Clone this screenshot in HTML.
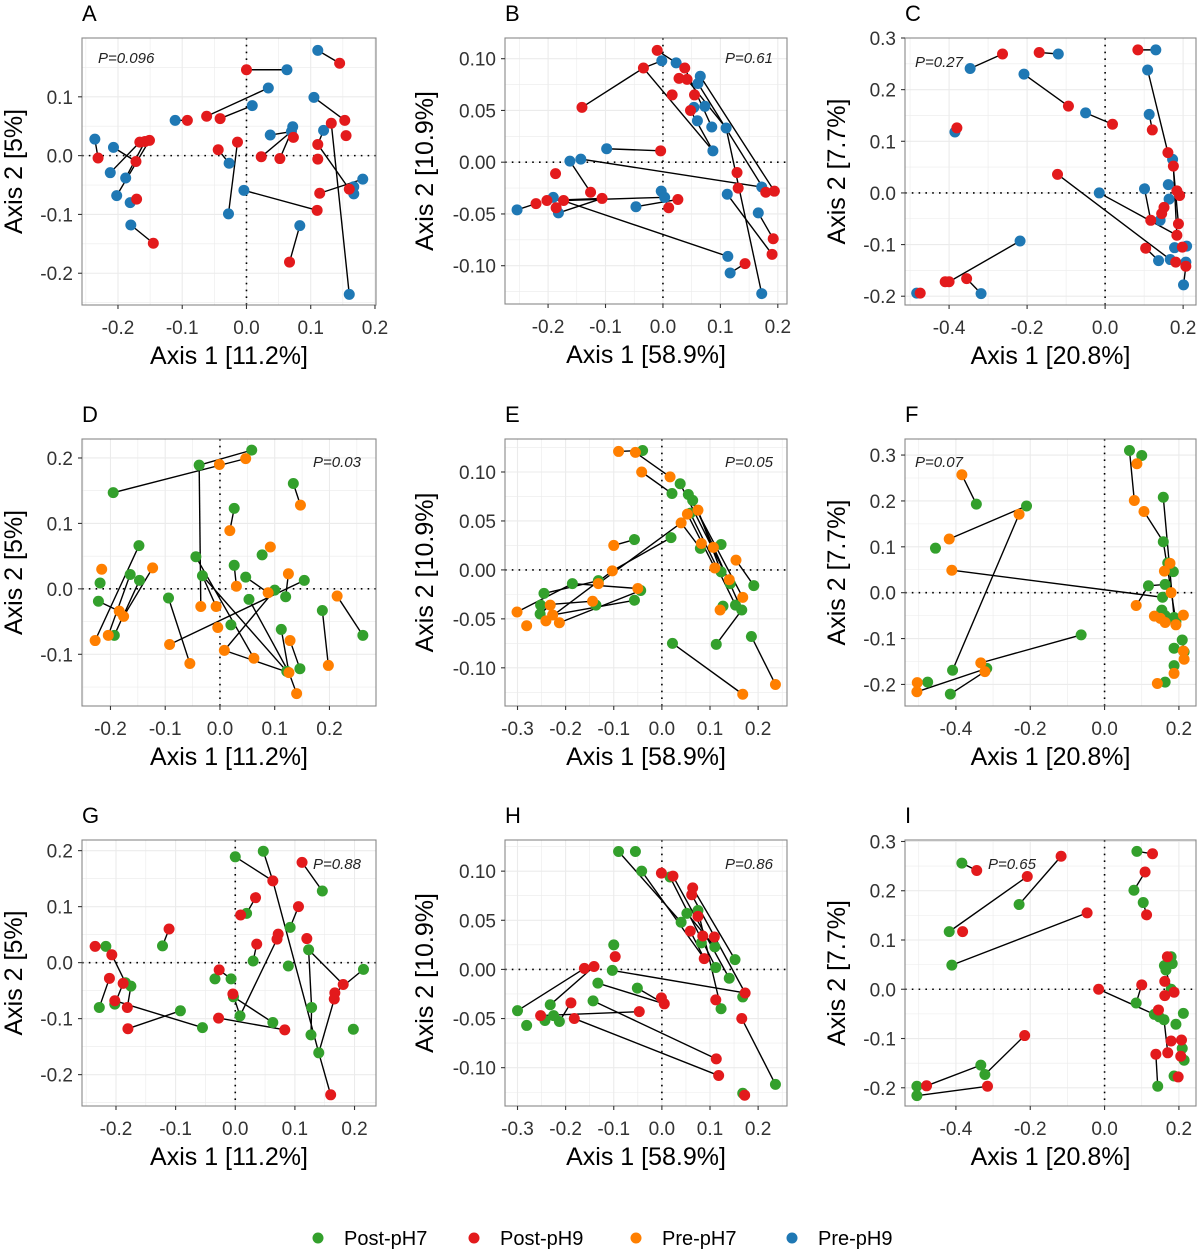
<!DOCTYPE html>
<html><head><meta charset="utf-8"><style>
html,body{margin:0;padding:0;background:#fff;}
svg{display:block;font-family:"Liberation Sans",Arial,sans-serif;}
</style></head><body>
<svg id="fig" width="1200" height="1255" viewBox="0 0 1200 1255" xmlns="http://www.w3.org/2000/svg"></svg>
<script>
const groupNames = ["Post-pH7","Post-pH9","Pre-pH7","Pre-pH9"];
const groupColors = {G:"#33a02c",R:"#e31a1c",O:"#ff7f00",B:"#1f78b4"};
const ticksA = {x:[-0.2,-0.1,0,0.1,0.2], y:[0.1,0,-0.1,-0.2]};
const ticksB = {x:[-0.2,-0.1,0,0.1,0.2], y:[0.10,0.05,0,-0.05,-0.10]};
const ticksC = {x:[-0.4,-0.2,0,0.2], y:[0.3,0.2,0.1,0,-0.1,-0.2]};
const ticksD = {x:[-0.2,-0.1,0,0.1,0.2], y:[0.2,0.1,0,-0.1]};
const ticksE = {x:[-0.3,-0.2,-0.1,0,0.1,0.2], y:[0.10,0.05,0,-0.05,-0.10]};
const ticksG = {x:[-0.2,-0.1,0,0.1,0.2], y:[0.2,0.1,0,-0.1,-0.2]};

const ptsA = [[0.111,0.179,"B"],[0.063,0.146,"B"],[0.034,0.115,"B"],[0.009,0.085,"B"],[-0.111,0.060,"B"],[0.105,0.099,"B"],[-0.236,0.028,"B"],[-0.207,0.014,"B"],[-0.212,-0.029,"B"],[-0.188,-0.038,"B"],[-0.202,-0.068,"B"],[-0.181,-0.080,"B"],[-0.180,-0.118,"B"],[-0.027,-0.013,"B"],[-0.028,-0.099,"B"],[-0.004,-0.059,"B"],[0.037,0.035,"B"],[0.072,0.049,"B"],[0.070,0.041,"B"],[0.120,0.043,"B"],[0.181,-0.040,"B"],[0.167,-0.053,"B"],[0.167,-0.065,"B"],[0.083,-0.119,"B"],[0.160,-0.236,"B"],
[0.145,0.157,"R"],[0,0.146,"R"],[-0.092,0.060,"R"],[-0.062,0.067,"R"],[-0.041,0.063,"R"],[-0.044,0.010,"R"],[-0.014,0.023,"R"],[-0.231,-0.004,"R"],[-0.166,0.023,"R"],[-0.158,0.024,"R"],[-0.151,0.026,"R"],[-0.172,-0.010,"R"],[-0.171,-0.074,"R"],[-0.145,-0.149,"R"],[0.023,-0.002,"R"],[0.052,-0.005,"R"],[0.073,0.031,"R"],[0.067,-0.181,"R"],[0.110,-0.093,"R"],[0.114,-0.064,"R"],[0.111,0.019,"R"],[0.111,-0.006,"R"],[0.132,0.055,"R"],[0.153,0.060,"R"],[0.155,0.034,"R"],[0.160,-0.057,"R"]];
const segsA = [[0.111,0.179,0.145,0.157],[0,0.146,0.063,0.146],[0.034,0.115,-0.062,0.067],[0.009,0.085,-0.041,0.063],[-0.111,0.060,-0.092,0.060],[0.105,0.099,0.153,0.060],[-0.236,0.028,-0.231,-0.004],[-0.207,0.014,-0.172,-0.010],[-0.212,-0.029,-0.166,0.023],[-0.188,-0.038,-0.158,0.024],[-0.202,-0.068,-0.151,0.026],[-0.181,-0.080,-0.171,-0.074],[-0.180,-0.118,-0.145,-0.149],[-0.027,-0.013,-0.044,0.010],[-0.028,-0.099,-0.014,0.023],[-0.004,-0.059,0.110,-0.093],[0.070,0.041,0.023,-0.002],[0.070,0.041,0.052,-0.005],[0.070,0.041,0.037,0.035],[0.072,0.049,0.073,0.031],[0.120,0.043,0.111,0.019],[0.181,-0.040,0.114,-0.064],[0.111,0.019,0.160,-0.057],[0.083,-0.119,0.067,-0.181],[0.160,-0.236,0.132,0.055]];

const ptsB = [[-0.002,0.098,"B"],[0.023,0.096,"B"],[0.065,0.083,"B"],[0.061,0.076,"B"],[0.073,0.054,"B"],[0.054,0.053,"B"],[0.060,0.040,"B"],[0.085,0.034,"B"],[0.110,0.033,"B"],[0.087,0.011,"B"],[-0.098,0.013,"B"],[-0.162,0.001,"B"],[-0.143,0.003,"B"],[-0.191,-0.034,"B"],[-0.182,-0.049,"B"],[-0.254,-0.046,"B"],[-0.047,-0.043,"B"],[-0.003,-0.028,"B"],[0.003,-0.034,"B"],[0.172,-0.024,"B"],[0.112,-0.031,"B"],[0.166,-0.049,"B"],[0.113,-0.091,"B"],[0.117,-0.107,"B"],[0.172,-0.127,"B"],
[-0.010,0.108,"R"],[-0.034,0.091,"R"],[0.038,0.091,"R"],[0.028,0.081,"R"],[0.042,0.080,"R"],[0.016,0.065,"R"],[0.055,0.065,"R"],[0.048,0.050,"R"],[-0.141,0.053,"R"],[-0.004,0.011,"R"],[-0.187,-0.011,"R"],[-0.126,-0.029,"R"],[-0.106,-0.035,"R"],[-0.221,-0.040,"R"],[-0.202,-0.037,"R"],[-0.173,-0.037,"R"],[-0.186,-0.044,"R"],[0.026,-0.036,"R"],[0.010,-0.044,"R"],[0.129,-0.010,"R"],[0.131,-0.025,"R"],[0.179,-0.029,"R"],[0.194,-0.028,"R"],[0.192,-0.074,"R"],[0.190,-0.089,"R"],[0.143,-0.098,"R"]];
const segsB = [[-0.141,0.053,-0.034,0.091],[-0.034,0.091,-0.002,0.098],[-0.034,0.091,0.087,0.011],[-0.010,0.108,0.023,0.096],[0.065,0.083,0.194,-0.028],[0.061,0.076,0.179,-0.029],[0.042,0.080,0.110,0.033],[0.038,0.091,0.085,0.034],[0.110,0.033,0.172,-0.127],[0.048,0.050,0.087,0.011],[0.112,-0.031,0.190,-0.089],[0.166,-0.049,0.192,-0.074],[0.117,-0.107,0.143,-0.098],[-0.098,0.013,-0.004,0.011],[-0.143,0.003,0.172,-0.024],[-0.162,0.001,-0.126,-0.029],[-0.254,-0.046,-0.221,-0.040],[-0.191,-0.034,0.113,-0.091],[-0.182,-0.049,-0.106,-0.035],[-0.173,-0.037,-0.003,-0.034],[-0.202,-0.037,-0.106,-0.035],[-0.047,-0.043,0.026,-0.036],[0.003,-0.034,0.010,-0.044]];

const ptsC = [[-0.346,0.241,"B"],[-0.120,0.269,"B"],[-0.208,0.230,"B"],[-0.050,0.155,"B"],[0.130,0.277,"B"],[0.109,0.238,"B"],[0.113,0.152,"B"],[-0.385,0.118,"B"],[-0.015,0,"B"],[0.101,0.008,"B"],[0.173,0.065,"B"],[0.162,0.016,"B"],[0.164,-0.012,"B"],[0.141,-0.053,"B"],[0.178,-0.106,"B"],[0.209,-0.103,"B"],[0.137,-0.131,"B"],[0.167,-0.129,"B"],[0.207,-0.134,"B"],[0.201,-0.178,"B"],[-0.218,-0.093,"B"],[-0.318,-0.195,"B"],[-0.483,-0.194,"B"],
[-0.263,0.269,"R"],[-0.169,0.272,"R"],[-0.094,0.168,"R"],[0.019,0.133,"R"],[0.084,0.277,"R"],[0.121,0.122,"R"],[-0.380,0.126,"R"],[-0.122,0.036,"R"],[0.161,0.078,"R"],[0.175,0.052,"R"],[0.184,0.004,"R"],[0.191,-0.005,"R"],[0.151,-0.028,"R"],[0.145,-0.040,"R"],[0.117,-0.053,"R"],[0.188,-0.060,"R"],[0.184,-0.082,"R"],[0.104,-0.107,"R"],[0.198,-0.105,"R"],[0.181,-0.134,"R"],[0.207,-0.142,"R"],[-0.355,-0.166,"R"],[-0.410,-0.172,"R"],[-0.400,-0.172,"R"],[-0.474,-0.194,"R"]];
const segsC = [[-0.346,0.241,-0.263,0.269],[-0.169,0.272,-0.120,0.269],[-0.208,0.230,-0.094,0.168],[-0.050,0.155,0.019,0.133],[0.084,0.277,0.130,0.277],[0.109,0.238,0.161,0.078],[0.173,0.065,0.188,-0.060],[0.175,0.052,0.184,-0.082],[0.113,0.152,0.121,0.122],[-0.015,0,0.184,-0.082],[-0.122,0.036,0.167,-0.129],[0.101,0.008,0.117,-0.053],[0.151,-0.028,0.141,-0.053],[0.104,-0.107,0.137,-0.131],[0.209,-0.103,0.198,-0.105],[0.207,-0.142,0.201,-0.178],[-0.218,-0.093,-0.400,-0.172],[-0.355,-0.166,-0.318,-0.195],[-0.483,-0.194,-0.474,-0.194]];

const ptsD = [[0.058,0.212,"G"],[-0.038,0.189,"G"],[-0.195,0.147,"G"],[0.134,0.161,"G"],[0.026,0.123,"G"],[-0.148,0.066,"G"],[-0.219,0.009,"G"],[-0.222,-0.019,"G"],[-0.164,0.022,"G"],[-0.147,0.013,"G"],[-0.193,-0.071,"G"],[-0.044,0.049,"G"],[-0.032,0.020,"G"],[-0.094,-0.014,"G"],[0.077,0.052,"G"],[0.026,0.036,"G"],[0.047,0.018,"G"],[0.053,-0.016,"G"],[0.100,-0.002,"G"],[0.120,-0.012,"G"],[0.154,0.013,"G"],[0.020,-0.055,"G"],[0.112,-0.062,"G"],[0.122,-0.126,"G"],[0.146,-0.122,"G"],[0.187,-0.033,"G"],[0.261,-0.071,"G"],
[-0.001,0.190,"O"],[0.047,0.199,"O"],[0.147,0.128,"O"],[0.018,0.089,"O"],[0.092,0.064,"O"],[-0.216,0.030,"O"],[-0.123,0.032,"O"],[-0.184,-0.034,"O"],[-0.176,-0.042,"O"],[-0.204,-0.071,"O"],[-0.228,-0.079,"O"],[-0.035,-0.027,"O"],[-0.007,-0.027,"O"],[-0.004,-0.059,"O"],[0.030,0.004,"O"],[0.088,-0.006,"O"],[0.125,0.023,"O"],[-0.092,-0.085,"O"],[-0.055,-0.114,"O"],[0.008,-0.094,"O"],[0.062,-0.106,"O"],[0.128,-0.079,"O"],[0.126,-0.128,"O"],[0.140,-0.160,"O"],[0.198,-0.117,"O"],[0.214,-0.011,"O"]];
const segsD = [[-0.195,0.147,0.047,0.199],[-0.038,0.189,0.058,0.212],[-0.038,0.189,-0.035,-0.027],[0.134,0.161,0.147,0.128],[0.026,0.123,0.018,0.089],[-0.148,0.066,-0.228,-0.079],[-0.164,0.022,-0.204,-0.071],[-0.147,0.013,-0.193,-0.071],[-0.123,0.032,-0.176,-0.042],[-0.222,-0.019,-0.184,-0.034],[-0.044,0.049,0.062,-0.106],[-0.032,0.020,-0.007,-0.027],[-0.032,0.020,0.122,-0.126],[-0.094,-0.014,-0.055,-0.114],[0.026,0.036,0.030,0.004],[0.047,0.018,0.088,-0.006],[0.154,0.013,-0.092,-0.085],[0.100,-0.002,0.008,-0.094],[0.008,-0.094,0.126,-0.128],[0.053,-0.016,0.126,-0.128],[0.120,-0.012,0.125,0.023],[0.112,-0.062,0.126,-0.128],[0.128,-0.079,0.146,-0.122],[0.126,-0.128,0.140,-0.160],[0.187,-0.033,0.198,-0.117],[0.214,-0.011,0.261,-0.071]];

const ptsE = [[-0.040,0.122,"G"],[0.038,0.088,"G"],[0.021,0.078,"G"],[0.055,0.077,"G"],[0.064,0.071,"G"],[0.059,0.058,"G"],[0.019,0.033,"G"],[-0.057,0.031,"G"],[0.080,0.022,"G"],[0.123,0.026,"G"],[0.123,-0.002,"G"],[0.142,-0.014,"G"],[0.191,-0.016,"G"],[0.127,-0.037,"G"],[0.153,-0.036,"G"],[0.166,-0.041,"G"],[0.186,-0.068,"G"],[0.113,-0.076,"G"],[0.022,-0.075,"G"],[-0.186,-0.014,"G"],[-0.132,-0.011,"G"],[-0.044,-0.021,"G"],[-0.057,-0.031,"G"],[-0.137,-0.036,"G"],[-0.245,-0.024,"G"],[-0.252,-0.036,"G"],[-0.253,-0.045,"G"],
[-0.090,0.121,"O"],[-0.055,0.120,"O"],[-0.042,0.100,"O"],[0.017,0.095,"O"],[0.075,0.061,"O"],[0.053,0.057,"O"],[0.040,0.048,"O"],[-0.100,0.025,"O"],[-0.103,-0.001,"O"],[0.082,0.027,"O"],[0.107,0.023,"O"],[0.110,0.002,"O"],[0.154,0.010,"O"],[0.140,-0.010,"O"],[0.168,-0.028,"O"],[0.121,-0.041,"O"],[0.236,-0.117,"O"],[0.168,-0.127,"O"],[-0.132,-0.014,"O"],[-0.050,-0.019,"O"],[-0.144,-0.032,"O"],[-0.301,-0.043,"O"],[-0.281,-0.057,"O"],[-0.232,-0.036,"O"],[-0.227,-0.046,"O"],[-0.241,-0.052,"O"],[-0.213,-0.054,"O"]];
const segsE = [[-0.090,0.121,-0.040,0.122],[-0.055,0.120,0.017,0.095],[-0.042,0.100,0.021,0.078],[0.038,0.088,0.142,-0.014],[0.055,0.077,0.168,-0.028],[0.064,0.071,0.166,-0.041],[0.059,0.058,0.153,-0.036],[0.075,0.061,0.123,-0.002],[0.040,0.048,0.080,0.022],[0.053,0.057,0.110,0.002],[0.107,0.023,0.123,0.026],[0.154,0.010,0.191,-0.016],[0.166,-0.041,0.113,-0.076],[0.186,-0.068,0.236,-0.117],[0.022,-0.075,0.168,-0.127],[0.019,0.033,-0.103,-0.001],[0.040,0.048,-0.132,-0.014],[-0.100,0.025,-0.057,0.031],[-0.103,-0.001,-0.241,-0.052],[-0.301,-0.043,-0.186,-0.014],[-0.186,-0.014,-0.050,-0.019],[-0.245,-0.024,-0.132,-0.011],[-0.252,-0.036,-0.144,-0.032],[-0.227,-0.046,-0.057,-0.031],[-0.213,-0.054,-0.044,-0.021],[-0.144,-0.032,-0.137,-0.036],[-0.253,-0.045,-0.232,-0.036]];

const ptsF = [[0.067,0.310,"G"],[0.100,0.299,"G"],[-0.345,0.193,"G"],[-0.210,0.189,"G"],[-0.455,0.097,"G"],[0.158,0.208,"G"],[0.158,0.111,"G"],[0.170,0.065,"G"],[0.185,0.046,"G"],[0.163,0.018,"G"],[0.118,0.015,"G"],[0.156,-0.010,"G"],[0.154,-0.038,"G"],[0.163,-0.050,"G"],[0.187,-0.054,"G"],[0.192,-0.063,"G"],[0.209,-0.103,"G"],[0.187,-0.121,"G"],[0.214,-0.129,"G"],[0.187,-0.159,"G"],[0.163,-0.195,"G"],[-0.063,-0.092,"G"],[-0.409,-0.169,"G"],[-0.317,-0.165,"G"],[-0.476,-0.195,"G"],[-0.415,-0.221,"G"],
[-0.384,0.257,"O"],[0.087,0.281,"O"],[0.080,0.201,"O"],[0.106,0.177,"O"],[-0.230,0.171,"O"],[-0.418,0.117,"O"],[-0.411,0.049,"O"],[0.176,0.064,"O"],[0.161,0.047,"O"],[0.179,0,"O"],[0.085,-0.028,"O"],[0.134,-0.051,"O"],[0.150,-0.056,"O"],[0.163,-0.065,"O"],[0.212,-0.049,"O"],[0.192,-0.070,"O"],[0.212,-0.127,"O"],[0.214,-0.145,"O"],[0.187,-0.176,"O"],[0.142,-0.198,"O"],[-0.333,-0.153,"O"],[-0.322,-0.172,"O"],[-0.504,-0.196,"O"],[-0.505,-0.216,"O"]];
const segsF = [[-0.384,0.257,-0.345,0.193],[-0.418,0.117,-0.210,0.189],[-0.230,0.171,-0.409,-0.169],[-0.411,0.049,0.156,-0.010],[0.067,0.310,0.080,0.201],[0.106,0.177,0.158,0.111],[0.158,0.208,0.187,-0.054],[0.158,0.111,0.192,-0.063],[0.085,-0.028,0.118,0.015],[0.118,0.015,0.163,0.018],[0.154,-0.038,0.163,-0.065],[-0.063,-0.092,-0.333,-0.153],[-0.317,-0.165,-0.505,-0.216],[-0.322,-0.172,-0.415,-0.221],[0.209,-0.103,0.214,-0.129]];

const ptsG = [[0,0.189,"G"],[0.047,0.199,"G"],[0.146,0.128,"G"],[0.019,0.088,"G"],[0.092,0.063,"G"],[0.123,0.023,"G"],[0.089,-0.006,"G"],[0.030,0.003,"G"],[0.215,-0.012,"G"],[0.128,-0.080,"G"],[0.127,-0.129,"G"],[0.140,-0.161,"G"],[0.198,-0.119,"G"],[-0.122,0.030,"G"],[-0.217,0.029,"G"],[-0.184,-0.036,"G"],[-0.175,-0.042,"G"],[-0.202,-0.074,"G"],[-0.228,-0.080,"G"],[-0.092,-0.086,"G"],[-0.055,-0.116,"G"],[-0.034,-0.029,"G"],[-0.007,-0.029,"G"],[-0.003,-0.061,"G"],[0.008,-0.095,"G"],[0.063,-0.107,"G"],
[0.112,0.179,"R"],[0.063,0.146,"R"],[0.034,0.116,"R"],[0.009,0.085,"R"],[-0.111,0.060,"R"],[0.106,0.100,"R"],[0.072,0.051,"R"],[0.070,0.042,"R"],[0.036,0.033,"R"],[0.120,0.043,"R"],[-0.235,0.029,"R"],[-0.207,0.014,"R"],[-0.211,-0.028,"R"],[-0.188,-0.037,"R"],[-0.202,-0.068,"R"],[-0.181,-0.080,"R"],[-0.180,-0.118,"R"],[-0.027,-0.013,"R"],[-0.028,-0.099,"R"],[-0.004,-0.056,"R"],[0.083,-0.120,"R"],[0.181,-0.039,"R"],[0.167,-0.054,"R"],[0.166,-0.065,"R"],[0.160,-0.236,"R"]];
const segsG = [[0,0.189,0.063,0.146],[0.047,0.199,0.063,0.146],[0.063,0.146,0.140,-0.161],[0.112,0.179,0.146,0.128],[0.019,0.088,0.034,0.116],[0.092,0.063,0.106,0.100],[-0.122,0.030,-0.111,0.060],[0.036,0.033,0.030,0.003],[0.123,0.023,0.181,-0.039],[0.123,0.023,0.128,-0.080],[0.128,-0.080,0.127,-0.129],[0.215,-0.012,0.167,-0.054],[0.166,-0.065,0.140,-0.161],[0.140,-0.161,0.160,-0.236],[0.070,0.042,0.008,-0.095],[-0.003,-0.061,0.063,-0.107],[-0.028,-0.099,0.083,-0.120],[-0.027,-0.013,-0.007,-0.029],[-0.207,0.014,-0.184,-0.036],[-0.211,-0.028,-0.228,-0.080],[-0.188,-0.037,-0.202,-0.074],[-0.175,-0.042,-0.181,-0.080],[-0.202,-0.068,-0.055,-0.116],[-0.180,-0.118,-0.092,-0.086],[-0.004,-0.056,0.008,-0.095]];

const ptsH = [[-0.090,0.120,"G"],[-0.055,0.120,"G"],[-0.042,0.100,"G"],[0.017,0.094,"G"],[0.052,0.057,"G"],[0.075,0.060,"G"],[0.040,0.048,"G"],[0.082,0.027,"G"],[0.110,0.023,"G"],[0.112,0.002,"G"],[0.152,0.010,"G"],[0.140,-0.009,"G"],[0.123,-0.040,"G"],[0.168,-0.028,"G"],[0.236,-0.117,"G"],[0.168,-0.126,"G"],[-0.100,0.025,"G"],[-0.103,-0.001,"G"],[-0.133,-0.014,"G"],[-0.051,-0.019,"G"],[-0.143,-0.032,"G"],[-0.300,-0.042,"G"],[-0.281,-0.057,"G"],[-0.232,-0.036,"G"],[-0.243,-0.052,"G"],[-0.213,-0.053,"G"],[-0.225,-0.047,"G"],
[-0.001,0.098,"R"],[0.023,0.095,"R"],[0.064,0.083,"R"],[0.062,0.076,"R"],[0.075,0.054,"R"],[0.059,0.039,"R"],[0.085,0.034,"R"],[0.109,0.033,"R"],[0.088,0.011,"R"],[-0.097,0.013,"R"],[-0.161,0.001,"R"],[-0.141,0.003,"R"],[-0.189,-0.034,"R"],[-0.252,-0.047,"R"],[-0.182,-0.050,"R"],[-0.047,-0.043,"R"],[-0.001,-0.029,"R"],[0.005,-0.035,"R"],[0.173,-0.024,"R"],[0.112,-0.031,"R"],[0.166,-0.050,"R"],[0.113,-0.091,"R"],[0.118,-0.108,"R"],[0.172,-0.128,"R"]];
const segsH = [[-0.090,0.120,0.040,0.048],[-0.042,0.100,0.088,0.011],[0.017,0.094,0.112,0.002],[0.023,0.095,0.140,-0.009],[0.064,0.083,0.152,0.010],[0.062,0.076,0.173,-0.024],[0.052,0.057,0.110,0.023],[0.075,0.060,0.123,-0.040],[0.059,0.039,0.088,0.011],[0.166,-0.050,0.236,-0.117],[-0.103,-0.001,0.173,-0.024],[-0.161,0.001,-0.300,-0.042],[-0.141,0.003,-0.232,-0.036],[-0.133,-0.014,0.005,-0.035],[-0.051,-0.019,0.005,-0.035],[-0.143,-0.032,0.113,-0.091],[-0.182,-0.050,0.118,-0.108],[-0.252,-0.047,-0.047,-0.043],[-0.189,-0.034,-0.213,-0.053]];

const ptsI = [[-0.384,0.256,"G"],[0.087,0.280,"G"],[0.079,0.201,"G"],[0.104,0.176,"G"],[-0.230,0.172,"G"],[-0.418,0.117,"G"],[-0.411,0.049,"G"],[0.179,0.066,"G"],[0.161,0.048,"G"],[0.165,0.039,"G"],[0.182,0.052,"G"],[0.179,0,"G"],[0.085,-0.028,"G"],[0.134,-0.051,"G"],[0.147,-0.056,"G"],[0.160,-0.062,"G"],[0.192,-0.071,"G"],[0.212,-0.049,"G"],[0.209,-0.120,"G"],[0.214,-0.144,"G"],[0.187,-0.176,"G"],[0.143,-0.197,"G"],[-0.333,-0.154,"G"],[-0.322,-0.173,"G"],[-0.505,-0.197,"G"],[-0.505,-0.216,"G"],
[-0.344,0.241,"R"],[-0.117,0.270,"R"],[-0.208,0.229,"R"],[-0.047,0.155,"R"],[0.129,0.275,"R"],[0.109,0.238,"R"],[0.113,0.151,"R"],[-0.382,0.117,"R"],[-0.016,0,"R"],[0.100,0.009,"R"],[0.169,0.066,"R"],[0.162,0.016,"R"],[0.162,-0.013,"R"],[0.187,-0.006,"R"],[0.145,-0.042,"R"],[0.179,-0.105,"R"],[0.207,-0.103,"R"],[0.138,-0.132,"R"],[0.170,-0.129,"R"],[0.205,-0.136,"R"],[0.198,-0.178,"R"],[-0.215,-0.094,"R"],[-0.315,-0.197,"R"],[-0.479,-0.196,"R"]];
const segsI = [[-0.384,0.256,-0.344,0.241],[-0.418,0.117,-0.208,0.229],[-0.230,0.172,-0.117,0.270],[-0.411,0.049,-0.047,0.155],[0.087,0.280,0.129,0.275],[0.079,0.201,0.109,0.238],[0.104,0.176,0.113,0.151],[-0.016,0,0.134,-0.051],[0.085,-0.028,0.100,0.009],[0.160,-0.062,0.170,-0.129],[0.138,-0.132,0.143,-0.197],[0.165,0.039,0.179,0],[-0.215,-0.094,-0.322,-0.173],[-0.333,-0.154,-0.479,-0.196],[-0.505,-0.216,-0.315,-0.197],[0.187,-0.176,0.198,-0.178]];

const panels = [
 {id:"A",f:[82,38,376,305],xd:[-0.256,0.2016],yd:[-0.254,0.2],t:ticksA,dx:1,dy:1,xl:"Axis 1 [11.2%]",yl:"Axis 2 [5%]",p:"P=0.096",pp:[98,58,"start"],pts:ptsA,segs:segsA},
 {id:"B",f:[505,38,787,304],xd:[-0.275,0.216],yd:[-0.137,0.120],t:ticksB,dx:1,dy:2,xl:"Axis 1 [58.9%]",yl:"Axis 2 [10.9%]",p:"P=0.61",pp:[773,58,"end"],pts:ptsB,segs:segsB},
 {id:"C",f:[905,38,1196,305],xd:[-0.513,0.233],yd:[-0.217,0.3],t:ticksC,dx:1,dy:1,xl:"Axis 1 [20.8%]",yl:"Axis 2 [7.7%]",p:"P=0.27",pp:[915,62,"start"],pts:ptsC,segs:segsC},
 {id:"D",f:[82,439,376,706],xd:[-0.252,0.285],yd:[-0.179,0.229],t:ticksD,dx:1,dy:1,xl:"Axis 1 [11.2%]",yl:"Axis 2 [5%]",p:"P=0.03",pp:[361,462,"end"],pts:ptsD,segs:segsD},
 {id:"E",f:[505,439,787,706],xd:[-0.326,0.260],yd:[-0.139,0.1337],t:ticksE,dx:1,dy:2,xl:"Axis 1 [58.9%]",yl:"Axis 2 [10.9%]",p:"P=0.05",pp:[773,462,"end"],pts:ptsE,segs:segsE},
 {id:"F",f:[905,439,1196,706],xd:[-0.537,0.246],yd:[-0.247,0.335],t:ticksC,dx:1,dy:1,xl:"Axis 1 [20.8%]",yl:"Axis 2 [7.7%]",p:"P=0.07",pp:[915,462,"start"],pts:ptsF,segs:segsF},
 {id:"G",f:[82,840,376,1106],xd:[-0.257,0.236],yd:[-0.256,0.219],t:ticksG,dx:1,dy:1,xl:"Axis 1 [11.2%]",yl:"Axis 2 [5%]",p:"P=0.88",pp:[361,864,"end"],pts:ptsG,segs:segsG},
 {id:"H",f:[505,840,787,1106],xd:[-0.326,0.260],yd:[-0.139,0.1317],t:ticksE,dx:1,dy:2,xl:"Axis 1 [58.9%]",yl:"Axis 2 [10.9%]",p:"P=0.86",pp:[773,864,"end"],pts:ptsH,segs:segsH},
 {id:"I",f:[905,840,1196,1106],xd:[-0.537,0.246],yd:[-0.237,0.303],t:ticksC,dx:1,dy:1,xl:"Axis 1 [20.8%]",yl:"Axis 2 [7.7%]",p:"P=0.65",pp:[988,864,"start"],pts:ptsI,segs:segsI}
];
const NS="http://www.w3.org/2000/svg";
const svg=document.getElementById("fig");
function mk(tag,attrs,parent){const e=document.createElementNS(NS,tag);for(const k in attrs)e.setAttribute(k,attrs[k]);(parent||svg).appendChild(e);return e;}
function fmt(v,d){const s=v.toFixed(d);return s==="-0.0"?"0.0":(s==="-0.00"?"0.00":s);}

panels.forEach(P=>{
  const [x0,y0,x1,y1]=P.f;
  const sx=v=>x0+(v-P.xd[0])/(P.xd[1]-P.xd[0])*(x1-x0);
  const sy=v=>y1-(v-P.yd[0])/(P.yd[1]-P.yd[0])*(y1-y0);
  const g=mk("g",{});
  
  
  mk("rect",{x:x0,y:y0,width:x1-x0,height:y1-y0,fill:"#fff"},g);
  const grid=mk("g",{},g);
  
  
  const xs=P.t.x, ys=P.t.y;
  const xstep=xs[1]-xs[0], ystep=ys[0]-ys[1];
  for(let v=xs[0]-xstep/2; v<=P.xd[1]; v+=xstep/2){ if(v<P.xd[0])continue; const px=sx(v); const fr=Math.abs(((v-xs[0])/xstep)%1); mk("line",{x1:px,x2:px,y1:y0,y2:y1,stroke:"#ebebeb","stroke-width":fr>0.25&&fr<0.75?0.6:1.1},grid);}
  for(let v=ys[ys.length-1]-ystep/2; v<=P.yd[1]; v+=ystep/2){ if(v<P.yd[0])continue; const py=sy(v); const fr=Math.abs(((v-ys[ys.length-1])/ystep)%1); mk("line",{x1:x0,x2:x1,y1:py,y2:py,stroke:"#ebebeb","stroke-width":fr>0.25&&fr<0.75?0.6:1.1},grid);}
  mk("line",{x1:sx(0),x2:sx(0),y1:y0,y2:y1,stroke:"#000","stroke-width":1.6,"stroke-dasharray":"1.6 5.2"},g);
  mk("line",{x1:x0,x2:x1,y1:sy(0),y2:sy(0),stroke:"#000","stroke-width":1.6,"stroke-dasharray":"1.6 5.2"},g);
  P.segs.forEach(s=>{
    const l=mk("line",{x1:sx(s[0]),y1:sy(s[1]),x2:sx(s[2]),y2:sy(s[3]),stroke:"#000","stroke-width":1.4},g);
    
    
  });
  P.pts.forEach(p=>{
    const c=mk("circle",{cx:sx(p[0]),cy:sy(p[1]),r:5.5,fill:groupColors[p[2]]},g);
    
    
  });
  mk("rect",{x:x0,y:y0,width:x1-x0,height:y1-y0,fill:"none",stroke:"#888","stroke-width":1.1},g);
  xs.forEach(v=>{const px=sx(v);
    mk("line",{x1:px,x2:px,y1:y1,y2:y1+4,stroke:"#333","stroke-width":1.1},g);
    const t=mk("text",{x:px,y:y1+29,"text-anchor":"middle","font-size":"19","fill":"#333"},g);t.textContent=fmt(v,P.dx);
    
    
  });
  ys.forEach(v=>{const py=sy(v);
    mk("line",{x1:x0-4,x2:x0,y1:py,y2:py,stroke:"#333","stroke-width":1.1},g);
    const t=mk("text",{x:x0-9,y:py+7,"text-anchor":"end","font-size":"19","fill":"#333"},g);t.textContent=fmt(v,P.dy);
    
    
  });
  const xt=mk("text",{x:(x0+x1)/2,y:y1+59,"text-anchor":"middle","font-size":"25",fill:"#000"},g);xt.textContent=P.xl;
  
  
  const cy=(y0+y1)/2, tx=x0-(P.dy===2?72:60);
  const yt=mk("text",{x:tx,y:cy,"text-anchor":"middle","font-size":"25",fill:"#000",transform:`rotate(-90 ${tx} ${cy})`},g);yt.textContent=P.yl;
  
  
  const pt=mk("text",{x:P.pp[0],y:P.pp[1]+5,"text-anchor":P.pp[2],"font-size":"15","font-style":"italic",fill:"#222"},g);pt.textContent=P.p;
  
  
  const lt=mk("text",{x:x0,y:y0-17,"font-size":"22",fill:"#000"},g);lt.textContent=P.id;
  
  
});
const legendX=[318,474,636,792];
const legendKeys=["G","R","O","B"];
const lg=mk("g",{});


groupNames.forEach((n,i)=>{
  const c=mk("circle",{cx:legendX[i],cy:1238,r:5.5,fill:groupColors[legendKeys[i]]},lg);
  
  
  const t=mk("text",{x:legendX[i]+26,y:1245,"font-size":"20",fill:"#000"},lg);t.textContent=n;
  
  
});
</script>
</body></html>
